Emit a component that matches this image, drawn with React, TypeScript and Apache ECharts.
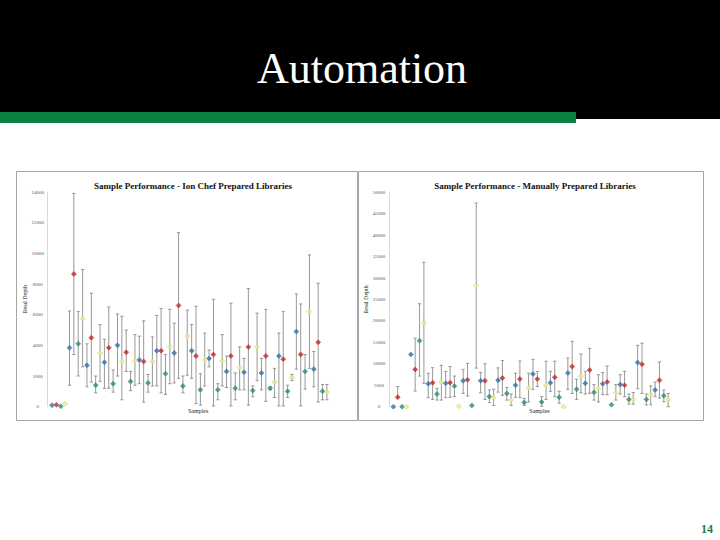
import React, { useEffect, useRef } from "react";
import * as echarts from "echarts";

const samples = [
  1, 2, 3, 4, 5, 6, 7, 8, 9, 10, 11, 12, 13, 14, 15, 16,
  17, 18, 19, 20, 21, 22, 23, 24, 25, 26, 27, 28, 29, 30, 31, 32,
  33, 34, 35, 36, 37, 38, 39, 40, 41, 42, 43, 44, 45, 46, 47, 48,
  49, 50, 51, 52, 53, 54, 55, 56, 57, 58, 59, 60, 61, 62, 63, 64,
];

// group index per sample: 0 blue, 1 red, 2 teal, 3 yellow
const ionGroup = [
  0, 1, 2, 3, 0, 1, 2, 3, 0, 1, 2, 3, 0, 1, 2, 0,
  3, 1, 2, 3, 0, 1, 2, 3, 0, 1, 2, 3, 0, 1, 2, 3,
  0, 1, 2, 3, 0, 1, 2, 3, 0, 1, 2, 3, 0, 1, 2, 3,
  0, 1, 2, 3, 0, 1, 2, 3, 0, 1, 2, 3, 0, 1, 2, 3,
];
const ionMean = [
  100, 120, 30, 200, 3850, 8650, 4100, 5750, 2700, 4500, 1400, 3500, 2900, 3850, 1500, 4000,
  2950, 3550, 1650, 3000, 3050, 2950, 1550, 2950, 3650, 3650, 2150, 3900, 3500, 6600, 1350, 4600,
  3650, 3300, 1100, 3050, 3150, 3400, 1100, 3000, 2300, 3300, 1200, 2550, 2250, 3900, 1050, 3900,
  2200, 3300, 1200, 1600, 3300, 3100, 1000, 1900, 4900, 3400, 2300, 6200, 2450, 4200, 1000, 950,
];
const ionHigh = [
  null, null, null, null, 6240, 13900, 6200, 8950, 4100, 7400, 2000, 5350, 4400, 6500, 2400, 6050,
  5900, 5000, 2300, 4700, 4600, 5600, 2100, 4550, 5950, 6400, 3400, 6350, 5450, 11350, 2000, 6300,
  5350, 6550, 2150, 4800, 3700, 7000, 1500, 4700, 3300, 6750, 2200, 3900, 3150, 7700, 1350, 6100,
  3150, 6350, 1300, 2500, 4800, 6200, 1400, 2100, 7350, 6700, 3400, 9900, 3600, 8050, 1450, 1450,
];
const ionLow = [
  null, null, null, null, 1400, 3400, 2000, 2600, 1300, 1600, 900, 1650, 1200, 1200, 950, 2000,
  450, 2300, 1050, 1400, 1500, 300, 950, 1350, 1350, 900, 800, 1500, 1550, 1850, 900, 2050,
  1850, 200, 100, 1350, 2600, 50, 450, 1350, 1250, 50, 450, 1100, 1100, 100, 650, 1700,
  1100, 350, 1100, 600, 50, 50, 600, 1700, 2450, 50, 1150, 2500, 1300, 300, 450, 450,
];

const manualGroup = [
  0, 1, 2, 3, 0, 1, 2, 3, 0, 1, 2, 3, 0, 1, 2, 3,
  0, 1, 2, 3, 0, 1, 2, 3, 0, 1, 2, 3, 0, 1, 2, 3,
  0, 1, 2, 3, 0, 1, 2, 3, 0, 1, 2, 3, 0, 1, 2, 3,
  0, 1, 2, 3, 0, 1, 2, 3, 0, 1, 2, 3, 0, 1, 2, 3,
];
const manualMean = [
  0, 2200, 0, 0, 12200, 8700, 15400, 19500, 5350, 5600, 2950, 5700, 5450, 5600, 4800, 100,
  6050, 6300, 300, 28250, 6050, 6050, 2350, 2100, 6150, 6700, 3100, 1550, 5000, 6450, 1000, 4350,
  7650, 6450, 1100, 5000, 5600, 6850, 2200, 0, 7850, 9350, 4050, 7150, 5450, 8550, 3350, 4200,
  5350, 5750, 450, 3250, 5150, 5000, 1700, 1700, 10300, 9900, 1700, 2750, 3900, 6150, 2550, 1700,
];
const manualHigh = [
  null, 4700, null, null, null, 16000, 24000, 33700, 7800, 9100, 4300, 9650, 8200, 9350, 7150, null,
  8700, 10100, null, 47500, 8000, 10000, 3900, 4050, 9050, 10750, 4500, 2950, 7800, 10650, 1950, 7800,
  11050, 8200, 2350, 10600, 8250, 10600, 3600, null, 11350, 15250, 6400, 12300, 8250, 13600, 5150, 7450,
  7950, 9500, null, 5150, 7450, 8250, 2950, 3300, 14300, 14800, 2950, 4850, 5750, 10450, 3900, 3100,
];
const manualLow = [
  null, 2200, null, null, null, 3650, 7150, 5450, 2100, 1700, 1550, 1550, 2100, 2200, 2350, null,
  3100, 2500, null, 9000, 3250, 1700, 950, 300, 3400, 2650, 1550, 300, 2200, 2100, 300, 1100,
  4050, 4700, 100, 1700, 3600, 2350, 800, 0, 4050, 3100, 1700, 3250, 2950, 3100, 1550, 1100,
  2800, 2800, null, 1550, 2950, 2350, 600, 600, 4200, 3100, 400, 450, 2350, 2000, 1150, 0,
];

const ionTicks = { max: 14000, interval: 2000 };
const manualTicks = { max: 50000, interval: 5000 };

const groupColors = ["#2f6fa7", "#c1272d", "#2a8c70", "#eeee88"];
const groupBorders = ["#2f6fa7", "#c1272d", "#2a8c70", "#c9c75e"];

const SERIF = "'Liberation Serif', 'Times New Roman', serif";

function scatterSeries(group: number[], mean: number[], axis: number) {
  return [0, 1, 2, 3].map((g) => ({
    type: "scatter",
    xAxisIndex: axis,
    yAxisIndex: axis,
    symbol: "diamond",
    symbolSize: 5,
    z: 5,
    itemStyle: { color: groupColors[g], borderColor: groupBorders[g], borderWidth: 0.6 },
    data: samples
      .map((s, i) => (group[i] === g ? [s, mean[i]] : null))
      .filter((d) => d !== null),
  }));
}

function errorSeries(high: (number | null)[], low: (number | null)[], axis: number) {
  const data = samples
    .map((s, i) => (high[i] != null && low[i] != null ? [s, high[i], low[i]] : null))
    .filter((d) => d !== null);
  return {
    type: "custom",
    xAxisIndex: axis,
    yAxisIndex: axis,
    z: 2,
    encode: { x: 0, y: [1, 2] },
    data,
    renderItem: (_params: any, api: any) => {
      const x = api.value(0);
      const top = api.coord([x, api.value(1)]);
      const bot = api.coord([x, api.value(2)]);
      const style = { stroke: "#8c8c8c", lineWidth: 0.9 };
      const cap = 1.6;
      return {
        type: "group",
        children: [
          { type: "line", shape: { x1: top[0], y1: top[1], x2: bot[0], y2: bot[1] }, style },
          { type: "line", shape: { x1: top[0] - cap, y1: top[1], x2: top[0] + cap, y2: top[1] }, style },
          { type: "line", shape: { x1: bot[0] - cap, y1: bot[1], x2: bot[0] + cap, y2: bot[1] }, style },
        ],
      };
    },
  };
}

function xAxisCfg(index: number) {
  return {
    type: "value",
    gridIndex: index,
    min: 0,
    max: 69,
    axisLine: { show: false },
    axisTick: { show: false },
    axisLabel: { show: false },
    splitLine: { show: false },
    name: "Samples",
    nameLocation: "middle",
    nameGap: 1,
    nameTextStyle: { fontFamily: SERIF, fontSize: 6, color: "#222" },
  };
}

function yAxisCfg(index: number, ticks: { max: number; interval: number }) {
  return {
    type: "value",
    gridIndex: index,
    min: 0,
    max: ticks.max,
    interval: ticks.interval,
    axisLine: { show: true, lineStyle: { color: "#d9d9d9", width: 1 } },
    axisTick: { show: false },
    splitLine: { show: false },
    axisLabel: {
      fontFamily: SERIF,
      fontSize: 5,
      color: "#555",
      align: "center",
      margin: 10,
      formatter: (v: number) => String(v),
    },
    name: "Read Depth",
    nameLocation: "middle",
    nameRotate: 90,
    nameGap: 20,
    nameTextStyle: { fontFamily: SERIF, fontSize: 6, color: "#222" },
  };
}

export default function App() {
  const ref = useRef<HTMLDivElement>(null);
  useEffect(() => {
    if (!ref.current) return;
    const chart = echarts.init(ref.current, undefined, { renderer: "svg" });
    chart.setOption({
      animation: false,
      backgroundColor: "#ffffff",
      title: [
        {
          text: "Sample Performance - Ion Chef Prepared Libraries",
          left: 188,
          top: 176,
          textAlign: "center",
          textStyle: { fontFamily: SERIF, fontWeight: "bold", fontSize: 9, color: "#111" },
        },
        {
          text: "Sample Performance - Manually Prepared Libraries",
          left: 530,
          top: 176,
          textAlign: "center",
          textStyle: { fontFamily: SERIF, fontWeight: "bold", fontSize: 9, color: "#111" },
        },
      ],
      grid: [
        { left: 47.7, top: 192, width: 301, height: 214.7 },
        { left: 389, top: 192.3, width: 301, height: 214.4 },
      ],
      xAxis: [xAxisCfg(0), xAxisCfg(1)],
      yAxis: [yAxisCfg(0, ionTicks), yAxisCfg(1, manualTicks)],
      graphic: [
        { type: "rect", shape: { x: 0, y: 0, width: 720, height: 119 }, style: { fill: "#000" }, z: 0 },
        { type: "rect", shape: { x: 0, y: 112, width: 576, height: 11 }, style: { fill: "#0c8141" }, z: 1 },
        {
          type: "text",
          x: 362,
          y: 68,
          style: {
            text: "Automation",
            fill: "#ffffff",
            font: `44px ${SERIF}`,
            textAlign: "center",
            textVerticalAlign: "middle",
          },
          z: 2,
        },
        {
          type: "rect",
          shape: { x: 16.5, y: 171.5, width: 341, height: 249 },
          style: { fill: "none", stroke: "#a6a6a6", lineWidth: 1 },
        },
        {
          type: "rect",
          shape: { x: 358.5, y: 171.5, width: 345, height: 249 },
          style: { fill: "none", stroke: "#a6a6a6", lineWidth: 1 },
        },
        {
          type: "text",
          x: 707,
          y: 529,
          style: {
            text: "14",
            fill: "#1e7b4a",
            font: `bold 12px ${SERIF}`,
            textAlign: "center",
            textVerticalAlign: "middle",
          },
        },
      ],
      series: [
        errorSeries(ionHigh, ionLow, 0),
        ...scatterSeries(ionGroup, ionMean, 0),
        errorSeries(manualHigh, manualLow, 1),
        ...scatterSeries(manualGroup, manualMean, 1),
      ],
    });
    return () => chart.dispose();
  }, []);
  return (
    <div
      ref={ref}
      style={{ position: "fixed", left: 0, top: 0, width: 720, height: 540, background: "#fff" }}
    />
  );
}
